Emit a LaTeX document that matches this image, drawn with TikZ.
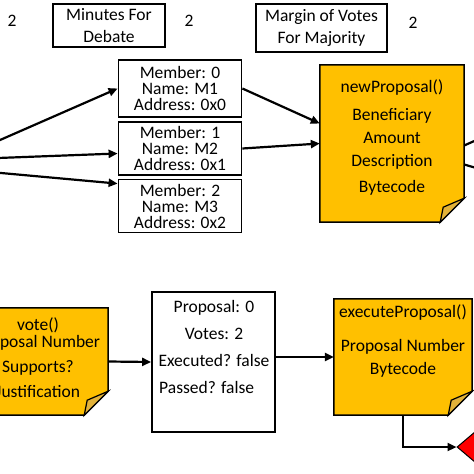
\documentclass[tikz,border=0pt]{standalone}
\usepackage{fontspec}
\setmainfont{Carlito}
\usetikzlibrary{arrows.meta,shapes.geometric,positioning}

\definecolor{notegold}{RGB}{255,192,0}
\definecolor{notefold}{RGB}{226,178,58}

% sticky note with a bent lower right corner, drawn round node #1
\newcommand{\foldnote}[1]{%
  \draw[line width=1.5pt,fill=notegold] (#1.north west) -- (#1.north east)
    -- ([yshift=24pt]#1.south east) -- ([xshift=-24pt]#1.south east)
    -- (#1.south west) -- cycle;
  \draw[line width=1.2pt,fill=notefold] ([yshift=24pt]#1.south east)
    -- ([xshift=-21pt,yshift=15pt]#1.south east)
    -- ([xshift=-24pt]#1.south east) -- cycle;}

\begin{document}
\begin{tikzpicture}[x=1pt,y=-1pt,
    font=\fontsize{17.5}{16}\selectfont,
    box/.style={draw,line width=1.8pt,align=center,inner sep=0pt},
    note/.style={inner sep=0pt},
    arr/.style={line width=2.2pt,-{Triangle[length=9pt,width=8pt]}},
    wire/.style={line width=2.2pt}]
  \useasboundingbox (0,0) rectangle (474,474);

  % settings along the top
  \node (two1) at (12,21) {2};
  \node[box,minimum width=112pt,minimum height=43pt,
    font=\fontsize{17.5}{22}\selectfont] (debate) at (109,25.5) {Minutes For\\Debate};
  \node (two2) at (189,21) {2};
  \node[box,minimum width=131pt,minimum height=48pt,
    font=\fontsize{17.5}{22}\selectfont] (margin) at (321.5,28) {Margin of Votes\\For Majority};
  \node (two3) at (413,23) {2};

  % members
  \foreach \i/\n/\y/\h in {0/1/88.5/57, 1/2/148.5/53, 2/3/206/53}
    \node[box,minimum width=123pt,minimum height=\h pt] (m\i) at (180,\y)
      {Member: \i\\Name: M\n\\Address: 0x\i};

  \coordinate (in0) at (-10,144.4);
  \coordinate (in1) at (-10,158.3);
  \coordinate (in2) at (-10,172);
  \draw[arr] (in0) -- (m0.west);
  \draw[arr] (in1) -- ([yshift=-5pt]m1.west);
  \draw[arr] (in2) -- ([yshift=-5pt]m2.north west);

  % newProposal()
  \node[note,minimum width=144pt,minimum height=157pt] (np) at (392,143.5) {};
  \foldnote{np}
  \foreach \t/\y in {newProposal()/88, Beneficiary/116, Amount/138,
      Description/162, Bytecode/188}
    \node (np\y) at (392,\y) {\t};
  \draw[arr] (m0.east) -- ([yshift=20pt]np.west);
  \draw[arr] (m1.east) -- (np.west);

  \coordinate (out0) at (490,134);
  \coordinate (out1) at (490,172);
  \draw[wire] ([yshift=-2pt]np.east) -- (out0);
  \draw[wire] ([yshift=-21pt]np.east) -- (out1);

  % vote()
  \node[note,minimum width=136pt,minimum height=107pt] (vote) at (40,361.5) {};
  \foldnote{vote}
  \foreach \t/\y in {vote()/325, Proposal Number/343, Supports?/368,
      Justification/392}
    \node (vote\y) at (38,\y) {\t};

  % proposal record
  \node[box,minimum width=123pt,minimum height=140pt] (prop) at (213.5,362) {};
  \node (propnum) at (214,308) {Proposal: 0};
  \node (propvotes) at (214,334) {Votes: 2};
  \node (propexec) at (214,360) {Executed? false};
  \node[anchor=west,inner xsep=0pt] (proppass) at (159,387) {Passed? false};
  \draw[arr] (vote.east) -- (prop.west);

  % executeProposal()
  \node[note,minimum width=138pt,minimum height=116pt] (ex) at (403,357) {};
  \foldnote{ex}
  \foreach \t/\y in {executeProposal()/313, Proposal Number/347, Bytecode/370}
    \node (ex\y) at (403,\y) {\t};
  \draw[arr] (ex.west -| prop.east) -- (ex.west);

  \node[diamond,draw,line width=1pt,fill=red,minimum width=40pt,
    minimum height=34pt,inner sep=0pt] (dec) at (477,447) {};
  \draw[arr] (ex.south) |- (dec.west);
\end{tikzpicture}
\end{document}
